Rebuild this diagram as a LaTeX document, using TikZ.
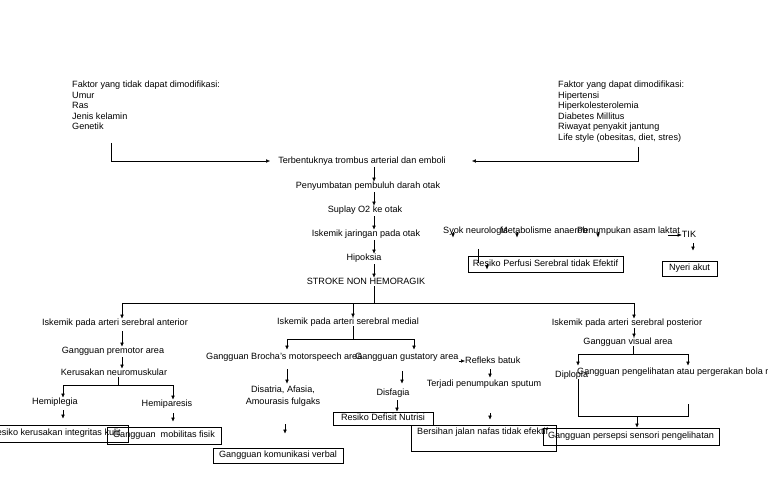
\documentclass[tikz,border=0pt]{standalone}
\usepackage{fontspec}
\setmainfont{Liberation Sans}
\usetikzlibrary{arrows.meta}
\newcommand\fs{\fontsize{9.1bp}{10.5bp}\selectfont}
\tikzset{
 lbl/.style={inner sep=0pt, text height=6.5bp, text depth=1.8bp, font=\fs},
 lblw/.style={lbl, anchor=west},
 bx/.style={draw, line width=0.7bp, inner sep=0pt, font=\fs, text height=6.5bp, text depth=1.8bp},
 ar/.style={-{Latex[length=4bp,width=3.6bp]}, line width=0.5bp},
 ln/.style={line width=0.7bp},
}
\begin{document}
\begin{tikzpicture}[x=1bp,y=-1bp]
\fill[white] (0,0) rectangle (768,503);
\useasboundingbox (0,0) rectangle (768,503);
% factor blocks
\node[anchor=north west, align=left, inner sep=0pt, font=\fs] (fl) at (72,81) {Faktor yang tidak dapat dimodifikasi:\\Umur\\Ras\\Jenis kelamin\\Genetik};
\node[anchor=north west, align=left, inner sep=0pt, font=\fs] (fr) at (558,81) {Faktor yang dapat dimodifikasi:\\Hipertensi\\Hiperkolesterolemia\\Diabetes Millitus\\Riwayat penyakit jantung\\Life style (obesitas, diet, stres)};
% main column
\coordinate (ax) at (374,0);
\node[lbl] (n1) at (362,161) {Terbentuknya trombus arterial dan emboli};
\node[lbl] (n2) at (368,186) {Penyumbatan pembuluh darah otak};
\node[lbl] (n3) at (365,210) {Suplay O2 ke otak};
\node[lbl] (n4) at (366,234) {Iskemik jaringan pada otak};
\node[lbl] (n5) at (364,258) {Hipoksia};
\node[lbl] (n6) at (366,282) {STROKE NON HEMORAGIK};
\foreach \a/\b in {n1/n2,n2/n3,n3/n4,n4/n5,n5/n6}
  \draw[ar, shorten <=2bp] (\a.south -| ax) -- (\b.north -| ax);
\coordinate (cl) at (111,143);
\draw[ar, shorten >=8bp] (cl) |- (n1.west);
\coordinate (cr) at (638,147);
\draw[ar, shorten >=26bp] (cr) |- (n1.east);
% top right chain
\node[lblw] (r1) at (443,231) {Syok neurologis};
\node[lblw] (r2) at (500,231) {Metabolisme anaerob};
\node[lblw] (r3) at (577,231) {Penumpukan asam laktat};
\node[lbl] (r4) at (689,235) {TIK};
\coordinate (s1) at (453,232);
\coordinate (s2) at (517,232);
\coordinate (s3) at (598,232);
\foreach \c in {s1,s2,s3} \draw[ar] (\c) -- ++(0,5.5);
\draw[ar] ([xshift=-12bp]r3.east |- r4.west) -- (r4.west);
\node[bx, minimum width=155bp, minimum height=16bp] (b7) at (545.5,264) {Resiko Perfusi Serebral tidak Efektif};
\coordinate (rs) at (478,249);
\draw[line width=0.5bp] (rs) -- ++(0,14);
\coordinate (rt) at (487,264);
\draw[ar] (rt) -- ++(0,5.5);
\coordinate (tx) at (693,0);
\node[bx, minimum width=55bp, minimum height=15bp] (b8) at (689.5,268.5) {Nyeri akut};
\draw[ar, shorten <=4bp, shorten >=10bp] (r4.south -| tx) -- (b8.north -| tx);
% stroke fork
\coordinate (hl) at (122,303);
\coordinate (hr) at (634,303);
\coordinate (hm) at (353,303);
\draw[ln] (n6.south -| ax) -- (ax |- hl);
\draw[ln] (hl) -- (hr);
% anterior
\node[lbl] (a1) at (115,323) {Iskemik pada arteri serebral anterior};
\draw[ar] (hl) -- (a1.north -| hl);
\node[lbl] (a2) at (113,351) {Gangguan premotor area};
\draw[ar, shorten <=4bp] (a1.south -| hl) -- (a2.north -| hl);
\node[lbl] (a3) at (114,373) {Kerusakan neuromuskular};
\draw[ar, shorten <=2bp] (a2.south -| hl) -- (a3.north -| hl);
\coordinate (ak) at (118,385);
\coordinate (akl) at (63,385);
\coordinate (akr) at (173,385);
\draw[ln] (a3.south -| ak) -- (ak);
\draw[ln] (akl) -- (akr);
\node[lbl] (a4) at (55,402) {Hemiplegia};
\node[lbl] (a5) at (167,404) {Hemiparesis};
\draw[ar] (akl) -- (a4.north -| akl);
\draw[ar] (akr) -- (a5.north -| akr);
\node[bx, minimum width=145bp, minimum height=17bp] (b1) at (55.5,433.5) {Resiko kerusakan integritas kulit};
\node[bx, minimum width=114bp, minimum height=17bp] (b2) at (164,435.5) {Gangguan~ mobilitas fisik};
\draw[ar, shorten <=4bp, shorten >=6bp] (a4.south -| akl) -- (b1.north -| akl);
\draw[ar, shorten <=5bp, shorten >=5bp] (a5.south -| akr) -- (b2.north -| akr);
% medial
\node[lbl] (m1) at (348,322) {Iskemik pada arteri serebral medial};
\draw[ar] (hm) -- (m1.north -| hm);
\coordinate (mk) at (353,339);
\coordinate (mkl) at (287,339);
\coordinate (mkr) at (414,339);
\draw[ln] (m1.south -| mk) -- (mk);
\draw[ln] (mkl) -- (mkr);
\node[lblw] (m2) at (206,357) {Gangguan Brocha's motorspeech area};
\node[lblw] (m3) at (355,357) {Gangguan gustatory area};
\draw[ar, shorten >=3bp] (mkl) -- (m2.north -| mkl);
\draw[ar, shorten >=3bp] (mkr) -- (m3.north -| mkr);
\node[lblw] (m4) at (465,361) {Refleks batuk};
\draw[ar] (m3.east |- m4.west) -- (m4.west);
\node[inner sep=0pt, align=center, font=\fontsize{9.1bp}{11.7bp}\selectfont] (m5) at (283,396) {Disatria, Afasia,\\Amourasis fulgaks};
\draw[ar, shorten <=8bp, shorten >=2bp] (m2.south -| mkl) -- (m5.north -| mkl);
\node[lbl] (m6) at (393,393) {Disfagia};
\coordinate (mg) at (402,0);
\draw[ar, shorten <=10bp, shorten >=5bp] (m3.south -| mg) -- (m6.north -| mg);
\node[bx, minimum width=100bp, minimum height=13bp] (b4) at (383,418.5) {Resiko Defisit Nutrisi};
\coordinate (md) at (397,0);
\draw[ar, shorten <=3bp] (m6.south -| md) -- (b4.north -| md);
\node[bx, minimum width=130bp, minimum height=15bp] (b3) at (278,455.5) {Gangguan komunikasi verbal};
\coordinate (ms) at (285,0);
\draw[ar, shorten <=18bp, shorten >=14bp] (m5.south -| ms) -- (b3.north -| ms);
\node[lbl] (m7) at (484,384) {Terjadi penumpukan sputum};
\coordinate (mr) at (490,0);
\draw[ar, shorten <=4bp, shorten >=2bp] (m4.south -| mr) -- (m7.north -| mr);
\node[draw, line width=0.7bp, minimum width=145bp, minimum height=26bp, inner sep=0pt] (b5) at (483.5,438) {};
\node[lblw] (t5) at (417,432) {Bersihan jalan nafas tidak efektif};
\draw[ar, shorten <=25bp, shorten >=5bp] (m7.south -| mr) -- (b5.north -| mr);
% posterior
\node[lbl] (p1) at (627,323) {Iskemik pada arteri serebral posterior};
\draw[ar] (hr) -- (p1.north -| hr);
\node[lbl] (p2) at (628,342) {Gangguan visual area};
\draw[ar, shorten <=1bp] (p1.south -| hr) -- (p2.north -| hr);
\coordinate (pk) at (633,354);
\coordinate (pkl) at (578,354);
\coordinate (pkr) at (688,354);
\draw[ln] (p2.south -| pk) -- (pk);
\draw[ln] (pkl) -- (pkr);
\node[lblw] (p3) at (555,375) {Diplopia};
\node[lblw] (p4) at (577,372) {Gangguan pengelihatan atau pergerakan bola mata};
\draw[ar, shorten >=2bp] (pkl) -- (pkl |- p4.north);
\draw[ar, shorten >=2bp] (pkr) -- (pkr |- p4.north);
\coordinate (pb) at (637,416);
\node[bx, minimum width=176bp, minimum height=17bp] (b6) at (631,436.5) {Gangguan persepsi sensori pengelihatan};
\draw[ln] (pkl |- p3.south) -- (pkl |- pb) -- (pkr |- pb) -- ++(0,-12);
\draw[ar] (pb) -- (b6.north -| pb);
\end{tikzpicture}
\end{document}
